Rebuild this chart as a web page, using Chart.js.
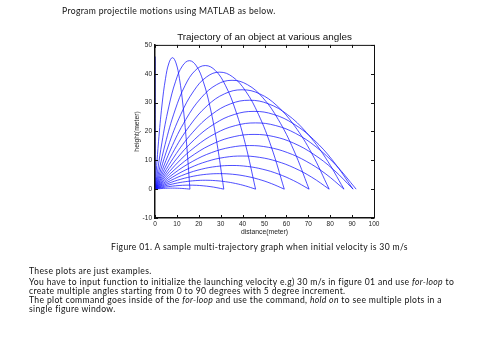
<!DOCTYPE html>
<html lang="en">
<head>
  <meta charset="UTF-8">
  <title>Projectile trajectories</title>
  <script src="https://cdn.jsdelivr.net/npm/chart.js"></script>
  <style>
    body {
      margin: 0;
      width: 496px;
      height: 342px;
      background: #fff;
      overflow: hidden;
      position: relative;
    }
    #plot {
      position: absolute;
      left: 0;
      top: 0;
      letter-spacing: 0;
    }
    .line {
      position: absolute;
      white-space: nowrap;
      font-family: Lato, "Open Sans", sans-serif;
      font-size: 8.6px;
      letter-spacing: 0.34px;
      line-height: 9px;
      color: #111;
    }
  </style>
</head>
<body>
  <canvas id="plot" width="496" height="342"></canvas>

  <div class="line" style="left:62px; top:6.9px;">Program projectile motions using MATLAB as below.</div>
  <div class="line" style="left:111px; top:242.9px;">Figure 01. A sample multi-trajectory graph when initial velocity is 30 m/s</div>
  <div class="line" style="left:29px; top:267.1px;">These plots are just examples.</div>
  <div class="line" style="left:29px; top:277.7px;">You have to input function to initialize the launching velocity e.g) 30 m/s in figure 01 and use <i>for-loop</i> to</div>
  <div class="line" style="left:29px; top:286.7px;">create multiple angles starting from 0 to 90 degrees with 5 degree increment.</div>
  <div class="line" style="left:29px; top:295.5px;">The plot command goes inside of the <i>for-loop</i> and use the command, <i>hold on</i> to see multiple plots in a</div>
  <div class="line" style="left:29px; top:304.9px;">single figure window.</div>

  <script>
    // launch angles in degrees, v0 = 30 m/s
    const angles = [5, 10, 15, 20, 25, 30, 35, 40, 45, 50, 55, 60, 65, 70, 75, 80, 85, 90];

    // distance along each flight (m); complementary angles land at the same spot
    const d05 = [0, 1.60, 3.19, 4.79, 6.38, 7.98, 9.57, 11.17, 12.76, 14.36, 15.95];
    const d10 = [0, 3.14, 6.28, 9.42, 12.56, 15.71, 18.85, 21.99, 25.13, 28.27, 31.41];
    const d15 = [0, 4.59, 9.18, 13.78, 18.37, 22.96, 27.55, 32.14, 36.74, 41.33, 45.92];
    const d20 = [0, 5.90, 11.81, 17.71, 23.61, 29.52, 35.42, 41.32, 47.22, 53.13, 59.03];
    const d25 = [0, 7.04, 14.07, 21.11, 28.14, 35.18, 42.21, 49.25, 56.28, 63.32, 70.35];
    const d30 = [0, 7.95, 15.91, 23.86, 31.81, 39.77, 47.72, 55.67, 63.62, 71.58, 79.53];
    const d35 = [0, 8.63, 17.26, 25.89, 34.52, 43.15, 51.78, 60.41, 69.04, 77.67, 86.30];
    const d40 = [0, 9.04, 18.09, 27.13, 36.18, 45.22, 54.26, 63.31, 72.35, 81.40, 90.44];
    const d45 = [0, 9.18, 18.37, 27.55, 36.74, 45.92, 55.10, 64.29, 73.47, 82.66, 91.84];
    const d90 = [0, 0, 0, 0, 0, 0, 0, 0, 0, 0, 0];

    // height at the same moments (m)
    const h05 = [0, 0.13, 0.22, 0.29, 0.34, 0.35, 0.34, 0.29, 0.22, 0.13, 0];
    const h10 = [0, 0.50, 0.89, 1.16, 1.33, 1.39, 1.33, 1.16, 0.89, 0.50, 0];
    const h15 = [0, 1.11, 1.97, 2.58, 2.95, 3.08, 2.95, 2.58, 1.97, 1.11, 0];
    const h20 = [0, 1.93, 3.44, 4.51, 5.16, 5.37, 5.16, 4.51, 3.44, 1.93, 0];
    const h25 = [0, 2.95, 5.25, 6.89, 7.87, 8.20, 7.87, 6.89, 5.25, 2.95, 0];
    const h30 = [0, 4.13, 7.35, 9.64, 11.02, 11.48, 11.02, 9.64, 7.35, 4.13, 0];
    const h35 = [0, 5.44, 9.67, 12.69, 14.50, 15.11, 14.50, 12.69, 9.67, 5.44, 0];
    const h40 = [0, 6.83, 12.14, 15.94, 18.21, 18.97, 18.21, 15.94, 12.14, 6.83, 0];
    const h45 = [0, 8.27, 14.69, 19.29, 22.04, 22.96, 22.04, 19.29, 14.69, 8.27, 0];
    const h50 = [0, 9.70, 17.25, 22.63, 25.87, 26.95, 25.87, 22.63, 17.25, 9.70, 0];
    const h55 = [0, 11.09, 19.72, 25.88, 29.58, 30.81, 29.58, 25.88, 19.72, 11.09, 0];
    const h60 = [0, 12.40, 22.04, 28.93, 33.06, 34.44, 33.06, 28.93, 22.04, 12.40, 0];
    const h65 = [0, 13.58, 24.14, 31.68, 36.21, 37.72, 36.21, 31.68, 24.14, 13.58, 0];
    const h70 = [0, 14.60, 25.95, 34.06, 38.93, 40.55, 38.93, 34.06, 25.95, 14.60, 0];
    const h75 = [0, 15.42, 27.42, 35.99, 41.13, 42.84, 41.13, 35.99, 27.42, 15.42, 0];
    const h80 = [0, 16.03, 28.50, 37.41, 42.75, 44.53, 42.75, 37.41, 28.50, 16.03, 0];
    const h85 = [0, 16.40, 29.16, 38.28, 43.75, 45.57, 43.75, 38.28, 29.16, 16.40, 0];
    const h90 = [0, 16.53, 29.39, 38.57, 44.08, 45.92, 44.08, 38.57, 29.39, 16.53, 0];

    const distances = [d05, d10, d15, d20, d25, d30, d35, d40, d45, d40, d35, d30, d25, d20, d15, d10, d05, d90];
    const heights = [h05, h10, h15, h20, h25, h30, h35, h40, h45, h50, h55, h60, h65, h70, h75, h80, h85, h90];

    const xTicks = [0, 10, 20, 30, 40, 50, 60, 70, 80, 90, 100];
    const yTicks = [-10, 0, 10, 20, 30, 40, 50];

    const datasets = angles.map((a, i) => ({
      label: a + ' deg',
      data: distances[i].map((d, k) => ({ x: d, y: heights[i][k] })),
      showLine: true,
      borderColor: 'rgba(20, 20, 255, 0.75)',
      borderWidth: 1,
      pointRadius: 0,
      tension: 0.4
    }));

    // box on: top/right edges and inward tick marks on all four sides
    const boxTicks = {
      id: 'boxTicks',
      afterDraw(chart) {
        const { ctx, chartArea: a, scales: { x, y } } = chart;
        ctx.save();
        ctx.strokeStyle = '#111';
        ctx.lineWidth = 1;
        ctx.beginPath();
        ctx.moveTo(a.left, a.top + 0.5);
        ctx.lineTo(a.right + 0.5, a.top + 0.5);
        ctx.lineTo(a.right + 0.5, a.bottom);
        x.ticks.forEach(t => {
          const px = Math.round(x.getPixelForValue(t.value)) + 0.5;
          ctx.moveTo(px, a.bottom);
          ctx.lineTo(px, a.bottom - 3);
          ctx.moveTo(px, a.top);
          ctx.lineTo(px, a.top + 3);
        });
        y.ticks.forEach(t => {
          const py = Math.round(y.getPixelForValue(t.value)) + 0.5;
          ctx.moveTo(a.left, py);
          ctx.lineTo(a.left + 3, py);
          ctx.moveTo(a.right, py);
          ctx.lineTo(a.right - 3, py);
        });
        ctx.stroke();
        ctx.restore();
      }
    };

    const tickFont = { family: 'Liberation Sans', size: 6.5, lineHeight: 1.2 };
    const axisTitleFont = { family: 'Liberation Sans', size: 6.8, lineHeight: 1.2 };

    new Chart(document.getElementById('plot'), {
      type: 'scatter',
      data: { datasets },
      plugins: [boxTicks],
      options: {
        responsive: false,
        animation: false,
        devicePixelRatio: 1,
        layout: { padding: { left: 130, right: 122, top: 28, bottom: 104 } },
        plugins: {
          legend: { display: false },
          tooltip: { enabled: false },
          title: {
            display: true,
            fullSize: false,
            text: 'Trajectory of an object at various angles',
            color: '#111',
            font: { family: 'Liberation Sans', size: 9.9, weight: 'normal', lineHeight: 1.2 },
            padding: { top: 3, bottom: 2 }
          }
        },
        scales: {
          x: {
            type: 'linear',
            min: 0,
            max: 100,
            afterBuildTicks: s => { s.ticks = xTicks.map(v => ({ value: v })); },
            afterFit: s => { s.height = 20; },
            grid: { display: false, drawTicks: false },
            border: { display: true, color: '#111', width: 1.5, z: 1 },
            ticks: { color: '#222', font: tickFont, padding: 2, maxRotation: 0 },
            title: { display: true, text: 'distance(meter)', color: '#222', font: axisTitleFont, padding: { top: 0, bottom: 1.8 } }
          },
          y: {
            type: 'linear',
            min: -10,
            max: 50,
            afterBuildTicks: s => { s.ticks = yTicks.map(v => ({ value: v })); },
            afterFit: s => { s.width = 25; },
            grid: { display: false, drawTicks: false },
            border: { display: true, color: '#111', width: 1.5, z: 1 },
            ticks: { color: '#222', font: tickFont, padding: 3 },
            title: { display: true, text: 'height(meter)', color: '#222', font: axisTitleFont, padding: { top: 3, bottom: 0 } }
          }
        }
      }
    });
  </script>
</body>
</html>
